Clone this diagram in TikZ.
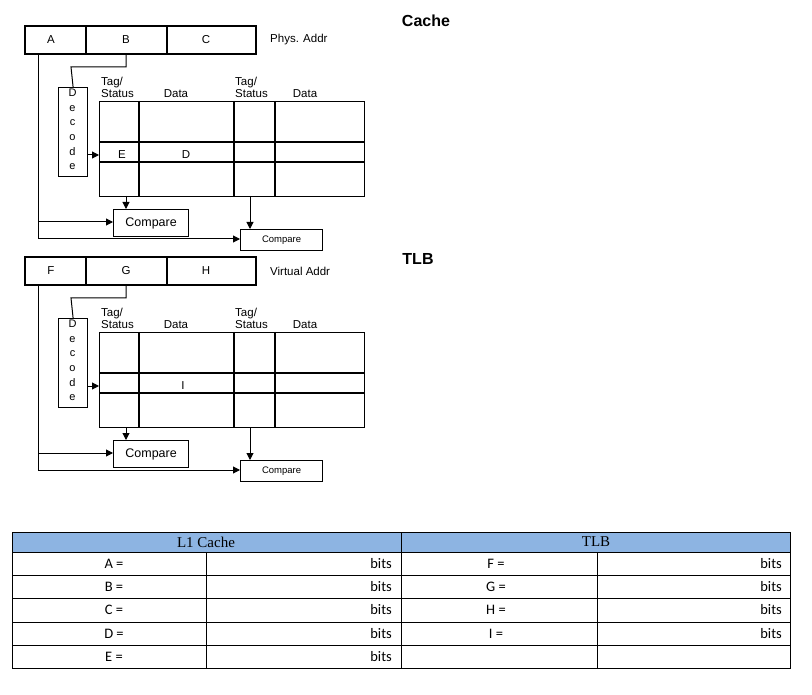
\documentclass[tikz,border=0pt]{standalone}
\usepackage{fontspec}
\setmainfont{Liberation Sans}
\newfontfamily\serif{Liberation Serif}
\newfontfamily\calib{Carlito}
\usetikzlibrary{arrows.meta}
\begin{document}
\begin{tikzpicture}[x=1pt,y=-1pt,
  box/.style={draw,line width=1.2pt},
  lbl/.style={font=\fontsize{11.5}{12}\selectfont,inner sep=0pt},
  sm/.style={font=\fontsize{9.5}{10}\selectfont,inner sep=0pt},
  arr/.style={-{Triangle[length=7pt,width=7pt]},line width=1pt},
  ln/.style={line width=1pt},
  ttl/.style={font=\bfseries\fontsize{16}{18}\selectfont,inner sep=0pt},
  cell/.style={font=\calib\fontsize{14.5}{15}\selectfont,inner sep=0pt}]
\useasboundingbox (0,0) rectangle (812,695);
\node[ttl] (tc) at (426,21) {Cache};
\node[ttl] (tt) at (418,259) {TLB};
\foreach \dy/\p/\q/\r/\addr/\pre in {0/A/B/C/Phys. Addr/c, 231/F/G/H/Virtual Addr/t}{
\begin{scope}[yshift=-\dy]
 \draw[box] (25,26) rectangle (256,54);
 \draw[box] (86,26) -- (86,54) (167,26) -- (167,54);
 \node[lbl] (\pre a) at (51,40) {\p};
 \node[lbl] (\pre b) at (126,40) {\q};
 \node[lbl] (\pre c) at (206,40) {\r};
 \node[lbl,anchor=west] (\pre addr) at (270,40) {\addr};
 \coordinate (\pre bb) at (126,54);
 \node[box,minimum width=29pt,minimum height=89pt,inner sep=0pt,anchor=north west] (\pre dec) at (58,87) {};
 \begin{scope}
 \clip (58,87) rectangle (87,176);
 \node[lbl,align=center,anchor=north,font=\fontsize{11}{14.6}\selectfont] (\pre dect) at (72.5,89) {D\\e\\c\\o\\d\\e};
 \end{scope}
 \draw[ln] (\pre bb) |- (71,67) -- (\pre dec.north);
 \node[lbl,anchor=west,align=left] (\pre h1) at (101,87) {Tag/\\Status};
 \node[lbl] (\pre h2) at (176,94) {Data};
 \node[lbl,anchor=west,align=left] (\pre h3) at (235,87) {Tag/\\Status};
 \node[lbl] (\pre h4) at (305,94) {Data};
 \node[box,minimum width=265pt,minimum height=95pt,inner sep=0pt,anchor=north west] (\pre grid) at (99,101) {};
 \draw[box] (139,101) -- (139,196) (234,101) -- (234,196) (275,101) -- (275,196);
 \draw[box] (99,142) -- (364,142);
 \draw[line width=1.8pt] (99,162) -- (364,162);
 \draw[arr] (87,155) -- (99,155);
 \node[box,minimum width=75pt,minimum height=27pt,inner sep=0pt,anchor=north west] (\pre cmp1) at (113,209) {};
 \node[lbl,font=\fontsize{12.5}{13}\selectfont] at (\pre cmp1) {Compare};
 \node[box,minimum width=82pt,minimum height=21pt,inner sep=0pt,anchor=north west] (\pre cmp2) at (240,229) {};
 \node[sm] at (\pre cmp2) {Compare};
 \draw[arr] (126,196) -- (126,209);
 \draw[arr] (250,196) -- (250,229);
 \draw[ln] (38,54) -- (38,239);
 \draw[arr] (38,222) -- (113,222);
 \draw[arr] (38,239) -- (240,239);
\end{scope}}
\node[lbl] (ce) at (122,155) {E};
\node[lbl] (cd) at (186,155) {D};
\node[lbl] (ti) at (183,386) {I};
% table
\fill[fill={rgb,255:red,141;green,180;blue,226}] (12,532) rectangle (790,552);
\draw[line width=0.7pt] (12,532) rectangle (790,668);
\foreach \y in {552,575,598,622,645} \draw[line width=0.7pt] (12,\y) -- (790,\y);
\draw[line width=0.7pt] (401,532) -- (401,668) (206,552) -- (206,668) (597,552) -- (597,668);
\node[font=\serif\fontsize{15}{16}\selectfont,inner sep=0pt] (hl) at (206,542) {L1 Cache};
\node[font=\serif\fontsize{15}{16}\selectfont,inner sep=0pt] (ht) at (596,542) {TLB};
\foreach \t/\y in {A/563.5,B/586.5,C/610,D/633.5,E/656.5}{
 \node[cell] at (114,\y) {\t\ =};
 \node[cell,anchor=east] at (392,\y) {bits};}
\foreach \t/\y in {F/563.5,G/586.5,H/610,I/633.5}{
 \node[cell] at (496,\y) {\t\ =};
 \node[cell,anchor=east] at (782,\y) {bits};}
\end{tikzpicture}
\end{document}
